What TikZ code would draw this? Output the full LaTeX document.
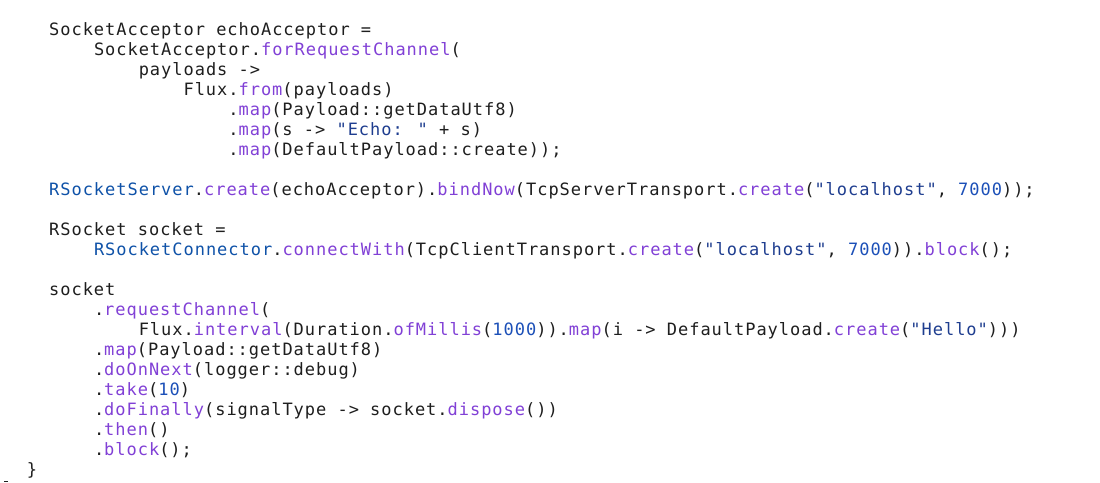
\documentclass[tikz,border=0pt]{standalone}
\usepackage{fontspec}
\newfontfamily\codefont[LetterSpace=5.7]{DejaVu Sans Mono}
\definecolor{pur}{HTML}{8140D6}
\definecolor{clsc}{HTML}{0F52A8}
\definecolor{numc}{HTML}{1C50B8}
\definecolor{strc}{HTML}{1E3D8F}
\definecolor{txt}{HTML}{1E1E1E}
\newcommand\mth[1]{\textcolor{pur}{#1}}
\newcommand\clsn[1]{\textcolor{clsc}{#1}}
\newcommand\numv[1]{\textcolor{numc}{#1}}
\newcommand\strv[1]{\textcolor{strc}{#1}}
\tikzset{code/.style={anchor=base west,inner sep=0pt,font=\codefont\fontsize{17pt}{20pt}\selectfont,text=txt}}
\begin{document}
\begin{tikzpicture}[x=1pt,y=-1pt]
\useasboundingbox[fill=white] (0,0) rectangle (1100,482);
\def\cw{11.2}
\node[code] (l1) at (49,35) {SocketAcceptor echoAcceptor =};
\node[code] (l2) at (49+4*\cw,55) {SocketAcceptor.\mth{forRequestChannel}(};
\node[code] (l3) at (49+8*\cw,75) {payloads ->};
\node[code] (l4) at (49+12*\cw,95) {Flux.\mth{from}(payloads)};
\node[code] (l5) at (49+16*\cw,115) {.\mth{map}(Payload::getDataUtf8)};
\node[code] (l6) at (49+16*\cw,135) {.\mth{map}(s -> \strv{"Echo: "} + s)};
\node[code] (l7) at (49+16*\cw,155) {.\mth{map}(DefaultPayload::create));};
\node[code] (l8) at (49,195) {\clsn{RSocketServer}.\mth{create}(echoAcceptor).\mth{bindNow}(TcpServerTransport.\mth{create}(\strv{"localhost"}, \numv{7000}));};
\node[code] (l9) at (49,235) {RSocket socket =};
\node[code] (l10) at (49+4*\cw,255) {\clsn{RSocketConnector}.\mth{connectWith}(TcpClientTransport.\mth{create}(\strv{"localhost"}, \numv{7000})).\mth{block}();};
\node[code] (l11) at (49,295) {socket};
\node[code] (l12) at (49+4*\cw,315) {.\mth{requestChannel}(};
\node[code] (l13) at (49+8*\cw,335) {Flux.\mth{interval}(Duration.\mth{ofMillis}(\numv{1000})).\mth{map}(i -> DefaultPayload.\mth{create}(\strv{"Hello"})))};
\node[code] (l14) at (49+4*\cw,355) {.\mth{map}(Payload::getDataUtf8)};
\node[code] (l15) at (49+4*\cw,375) {.\mth{doOnNext}(logger::debug)};
\node[code] (l16) at (49+4*\cw,395) {.\mth{take}(\numv{10})};
\node[code] (l17) at (49+4*\cw,415) {.\mth{doFinally}(signalType -> socket.\mth{dispose}())};
\node[code] (l18) at (49+4*\cw,435) {.\mth{then}()};
\node[code] (l19) at (49+4*\cw,455) {.\mth{block}();};
\node[code] (l20) at (49-2*\cw,475) {\}};
\draw[txt,line width=1pt] (4,481) -- (8,481);
\end{tikzpicture}
\end{document}
